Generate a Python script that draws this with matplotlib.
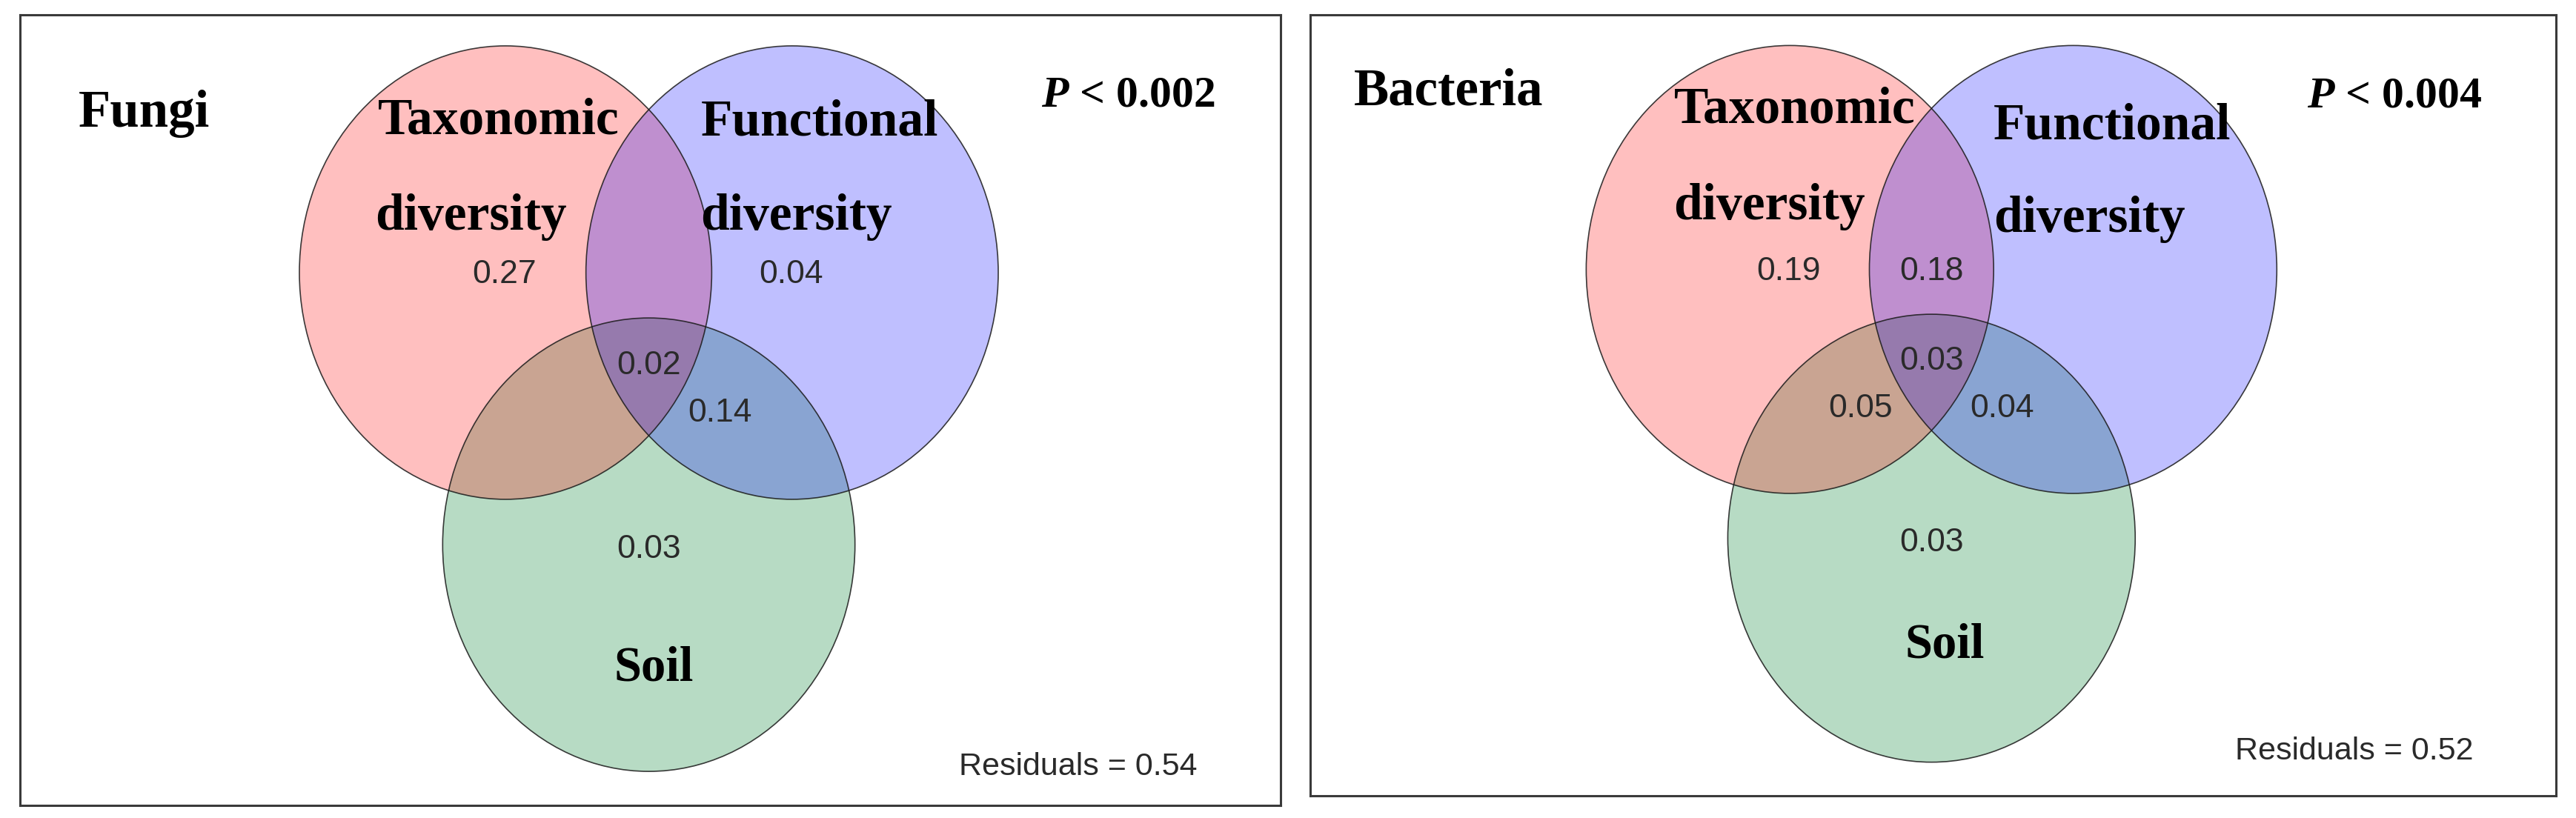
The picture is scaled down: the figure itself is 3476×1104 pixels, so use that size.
import matplotlib.pyplot as plt
from matplotlib.patches import Ellipse

# variation partitioning results (fractions of explained variance)
sets = ["Taxonomic", "Functional", "Soil"]
regions = ["T", "F", "TF", "TFS", "TS", "FS", "S"]
fungi_values = [0.27, 0.04, None, 0.02, None, 0.14, 0.03]
bacteria_values = [0.19, None, 0.18, 0.03, 0.05, 0.04, 0.03]
fungi_p = "0.002"
bacteria_p = "0.004"
fungi_resid = 0.54
bacteria_resid = 0.52

# layout: circles of radius 1, centres in the same units
centres = [(-0.695, 0.6), (0.695, 0.6), (0.0, -0.6)]
fills = [(1.0, 0.0, 0.0, 0.25), (0.0, 0.0, 1.0, 0.25), (0.15, 0.58, 0.30, 0.33)]
fill_order = [2, 0, 1]   # soil circle is painted first
region_pos = {"T": (-0.70, 0.59), "F": (0.69, 0.59), "TF": (0.0, 0.59),
              "TFS": (0.0, 0.19), "TS": (-0.35, -0.02), "FS": (0.345, -0.02),
              "S": (0.0, -0.62)}

plt.rcParams['mathtext.fontset'] = 'custom'
plt.rcParams['mathtext.it'] = 'Liberation Serif:italic:bold'
plt.rcParams['mathtext.rm'] = 'Liberation Serif:bold'

SERIF = ['Liberation Serif', 'DejaVu Serif']
SANS = ['Liberation Sans Narrow', 'Liberation Sans', 'DejaVu Sans']


def draw_panel(ax, title, values, pval, resid, lab):
    ax.set_xlim(-3.05, 3.065)
    ax.set_ylim(-1.75, 1.737)
    ax.set_xticks([])
    ax.set_yticks([])
    for s in ax.spines.values():
        s.set_linewidth(2.2)
        s.set_color('#3a3a3a')

    for i in fill_order:
        ax.add_patch(Ellipse(centres[i], 2, 2, facecolor=fills[i], edgecolor='none'))
    for c in centres:
        ax.add_patch(Ellipse(c, 2, 2, facecolor='none',
                             edgecolor=(0.1, 0.1, 0.1, 0.85), lw=1.2))

    for r, v in zip(regions, values):
        if v is None:
            continue
        x, y = region_pos[r]
        ax.text(x, y, f"{v:.2f}", ha='center', va='center', fontsize=32,
                family=SANS, color='#2a2a2a')

    bold = dict(family=SERIF, fontweight='bold', va='baseline', color='black')
    ax.text(*lab['title'], title, fontsize=51, ha='left', **bold)
    ax.text(*lab['tax1'], "Taxonomic", fontsize=50, ha='left', **bold)
    ax.text(*lab['tax2'], "diversity", fontsize=50, ha='left', **bold)
    ax.text(*lab['fun1'], "Functional", fontsize=50, ha='left', **bold)
    ax.text(*lab['fun2'], "diversity", fontsize=50, ha='left', **bold)
    ax.text(*lab['soil'], "Soil", fontsize=48, ha='center', **bold)
    ax.text(*lab['p'], r"$P$ < " + pval, fontsize=43, ha='left', **bold)
    ax.text(*lab['resid'], f"Residuals = {resid:.2f}", fontsize=31,
            family=SANS, ha='right', va='center', color='#2a2a2a')


fungi_lab = {"title": (-2.766, 1.244), "tax1": (-1.313, 1.214),
             "tax2": (-1.327, 0.79), "fun1": (0.252, 1.205),
             "fun2": (0.252, 0.79), "soil": (0.025, -1.2),
             "p": (1.903, 1.332), "resid": (2.66, -1.58)}
bacteria_lab = {"title": (-2.836, 1.334), "tax1": (-1.265, 1.255),
                "tax2": (-1.265, 0.824), "fun1": (0.305, 1.182),
                "fun2": (0.305, 0.768), "soil": (0.065, -1.134),
                "p": (1.844, 1.324), "resid": (2.658, -1.55)}

fig = plt.figure(figsize=(34.76, 11.04), dpi=100)
ax1 = fig.add_axes([0.00777, 0.0154, 0.4894, 0.9665])
ax2 = fig.add_axes([0.5086, 0.0272, 0.4836, 0.9547])

draw_panel(ax1, "Fungi", fungi_values, fungi_p, fungi_resid, fungi_lab)
draw_panel(ax2, "Bacteria", bacteria_values, bacteria_p, bacteria_resid, bacteria_lab)

fig.savefig("out.png", dpi=100)
